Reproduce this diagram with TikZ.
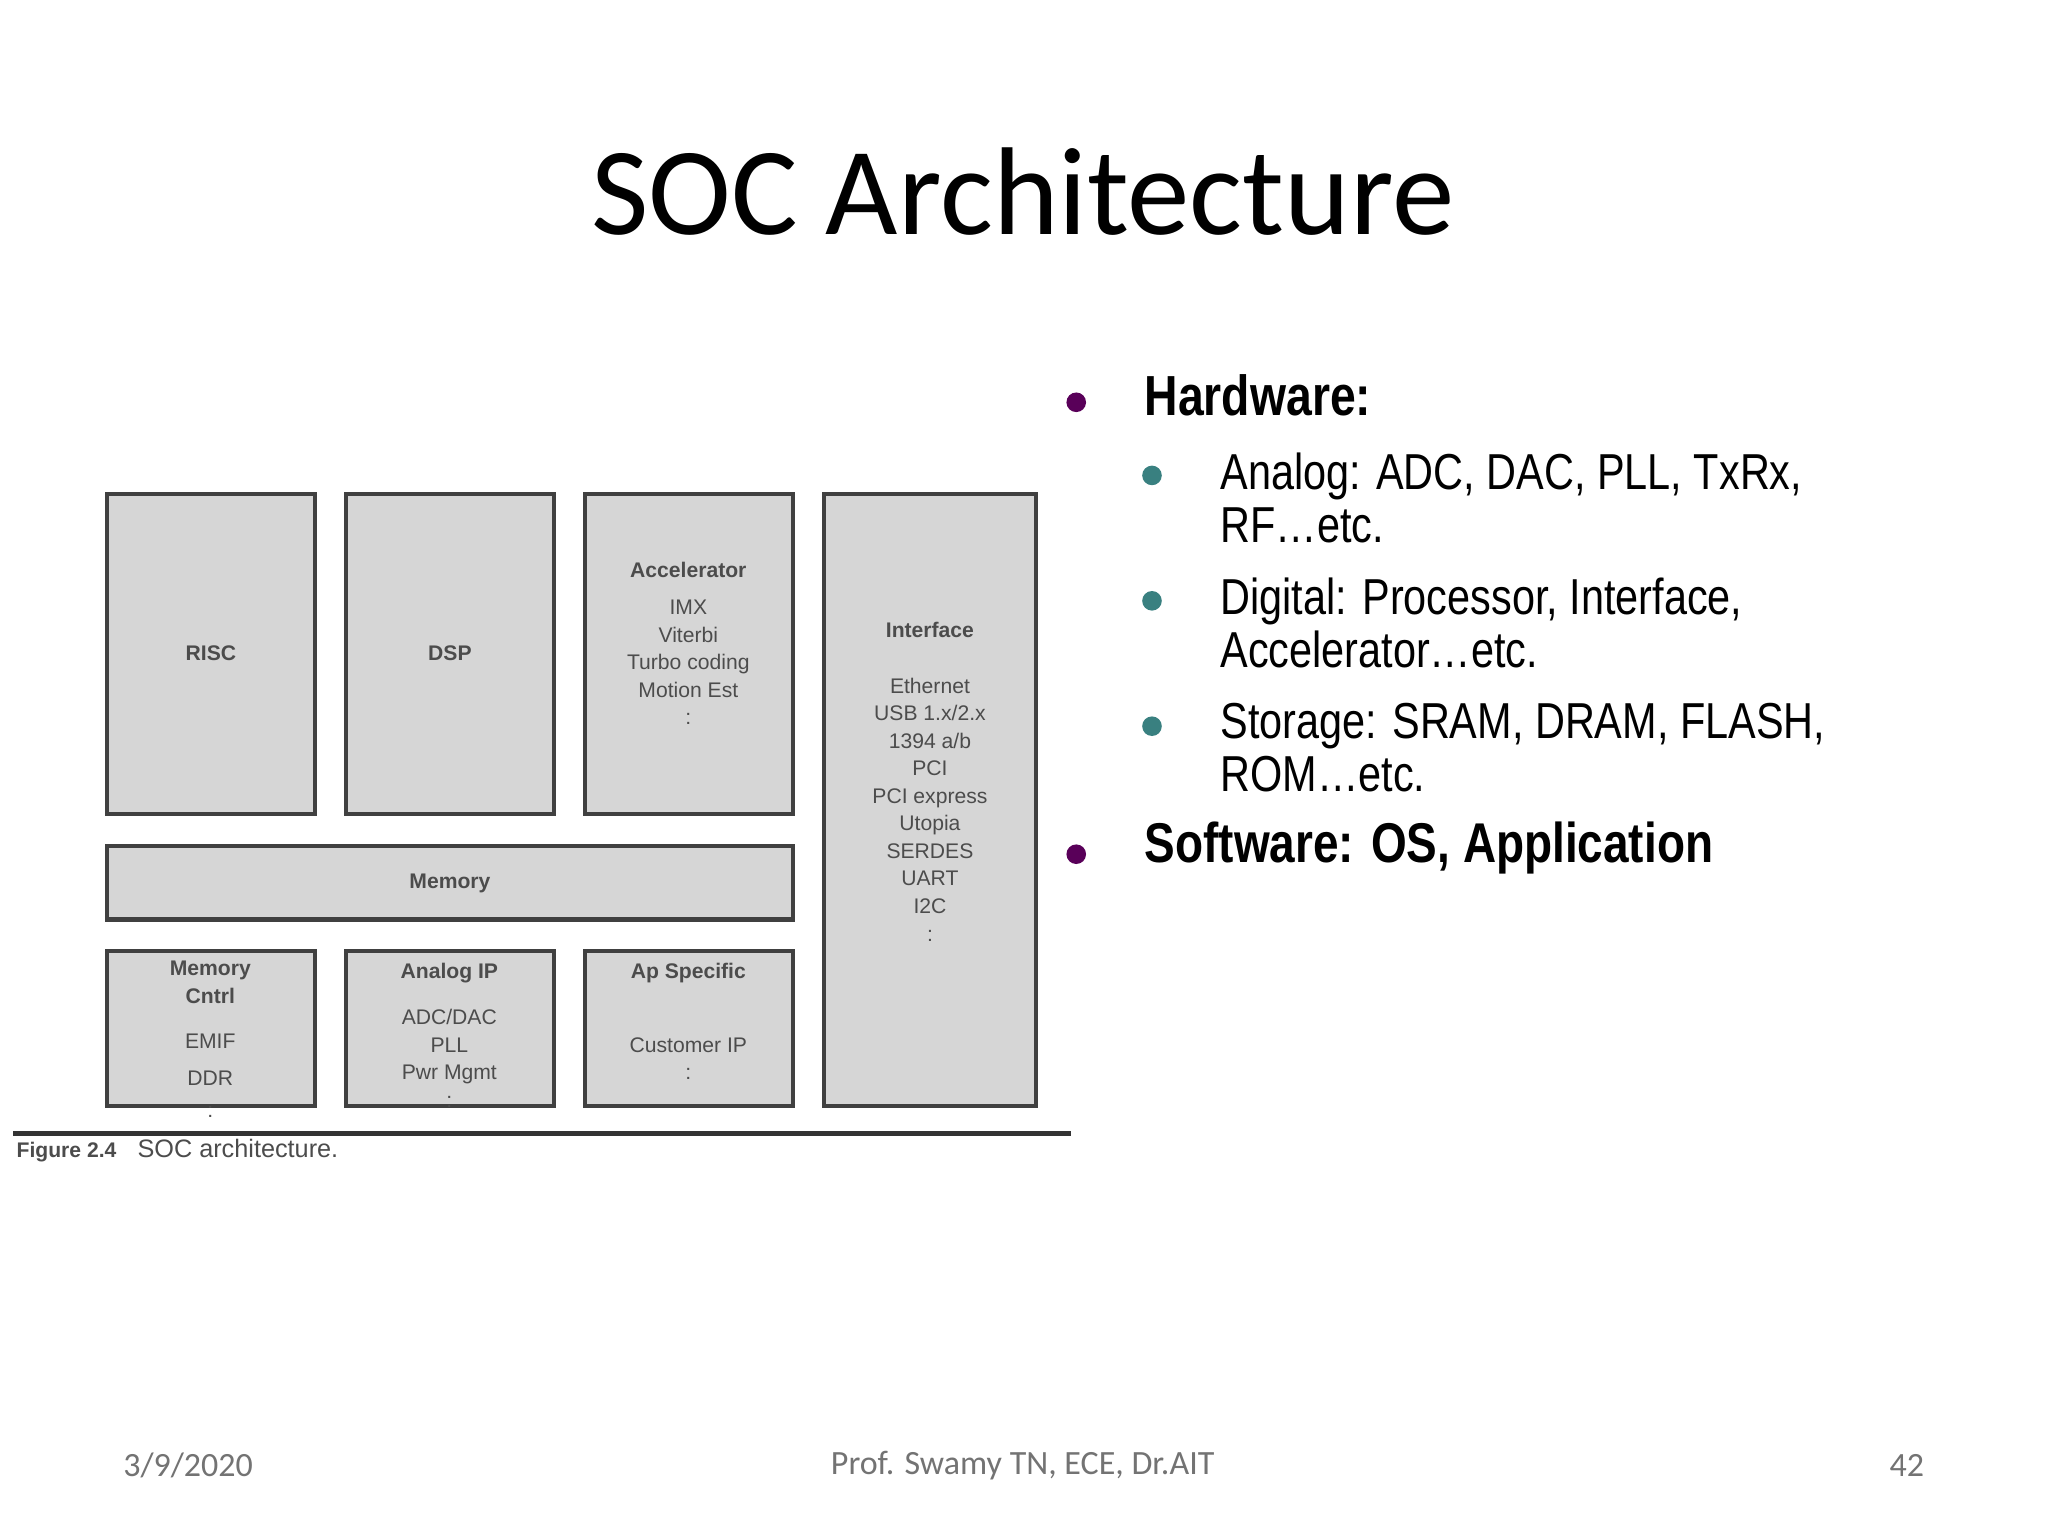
\documentclass[tikz,border=0pt]{standalone}
\usepackage{fontspec}
\setmainfont{Carlito}
\newfontfamily\narrow{Liberation Sans}[FakeStretch=0.82]
\newfontfamily\helv{Liberation Sans}
\begin{document}
\begin{tikzpicture}[x=0.01cm,y=-0.01cm,
 blk/.style={draw=black!75,line width=0.9pt,fill=black!16},
 lbl/.style={font=\helv\fontsize{4.6}{6}\selectfont,text=black!70,align=center,inner sep=0},
 bul/.style={circle,inner sep=0,minimum size=0.15cm},
 ft/.style={font=\fontsize{7.4}{8}\selectfont,text=black!55}]
\useasboundingbox (0,0) rectangle (1568,1176);
\node[font=\fontsize{27.2}{30}\selectfont] (title) at (783,147) {SOC Architecture};
% blocks
\draw[blk] (82,378) rectangle (241,623) node[midway,lbl] (risc) {\textbf{RISC}};
\draw[blk] (265,378) rectangle (424,623) node[midway,lbl] (dsp) {\textbf{DSP}};
\draw[blk] (448,378) rectangle (607,623);
\node[lbl,anchor=north] (acc) at (527,430) {\textbf{Accelerator}\\[2pt]IMX\\Viterbi\\Turbo coding\\Motion Est\\:};
\draw[blk] (631,378) rectangle (793,847);
\node[lbl,anchor=north] (intf) at (712,476) {\textbf{Interface}\\[6pt]Ethernet\\USB 1.x/2.x\\1394 a/b\\PCI\\PCI express\\Utopia\\SERDES\\UART\\I2C\\:};
\draw[blk] (82,648) rectangle (607,704) node[midway,lbl] (mem) {\textbf{Memory}};
\draw[blk] (82,728) rectangle (241,847);
\node[lbl,anchor=north] (mc) at (161,735) {\textbf{Memory}\\\textbf{Cntrl}\\[4pt]EMIF\\[2pt]DDR\\[1pt]:};
\draw[blk] (265,728) rectangle (424,847);
\node[lbl,anchor=north] (aip) at (344,737) {\textbf{Analog IP}\\[4pt]ADC/DAC\\PLL\\Pwr Mgmt\\:};
\draw[blk] (448,728) rectangle (607,847);
\node[lbl,anchor=north] (aps) at (527,737) {\textbf{Ap Specific}\\[10pt]Customer IP\\:};
\draw[line width=1pt,black!80] (10,868) -- (820,868);
\node[lbl,anchor=west] (cap) at (12,881) {\textbf{Figure 2.4}\quad\fontsize{5.5}{6}\selectfont SOC architecture.};
% bullets
\node[bul,fill=violet!70!black] (b1) at (824,308) {};
\node[anchor=west,font=\narrow\bfseries\fontsize{12.3}{15}\selectfont] (t1) at (864,303) {Hardware:};
\node[bul,fill=teal!55!gray] (s1) at (882,364) {};
\node[anchor=north west,align=left,font=\narrow\fontsize{11}{11.6}\selectfont] (u1) at (922,334) {Analog: ADC, DAC, PLL, TxRx,\\RF\ldots etc.};
\node[bul,fill=teal!55!gray] (s2) at (882,460) {};
\node[anchor=north west,align=left,font=\narrow\fontsize{11}{11.6}\selectfont] (u2) at (922,430) {Digital: Processor, Interface,\\Accelerator\ldots etc.};
\node[bul,fill=teal!55!gray] (s3) at (882,556) {};
\node[anchor=north west,align=left,font=\narrow\fontsize{11}{11.6}\selectfont] (u3) at (922,526) {Storage: SRAM, DRAM, FLASH,\\ROM\ldots etc.};
\node[bul,fill=violet!70!black] (b2) at (824,654) {};
\node[anchor=west,font=\narrow\bfseries\fontsize{12.2}{15}\selectfont] (t2) at (864,649) {Software: OS, Application};
% footer
\node[ft] (d) at (144,1122) {3/9/2020};
\node[ft] (p) at (783,1122) {Prof. Swamy TN, ECE, Dr.AIT};
\node[ft] (n) at (1460,1122) {42};
\end{tikzpicture}
\end{document}
